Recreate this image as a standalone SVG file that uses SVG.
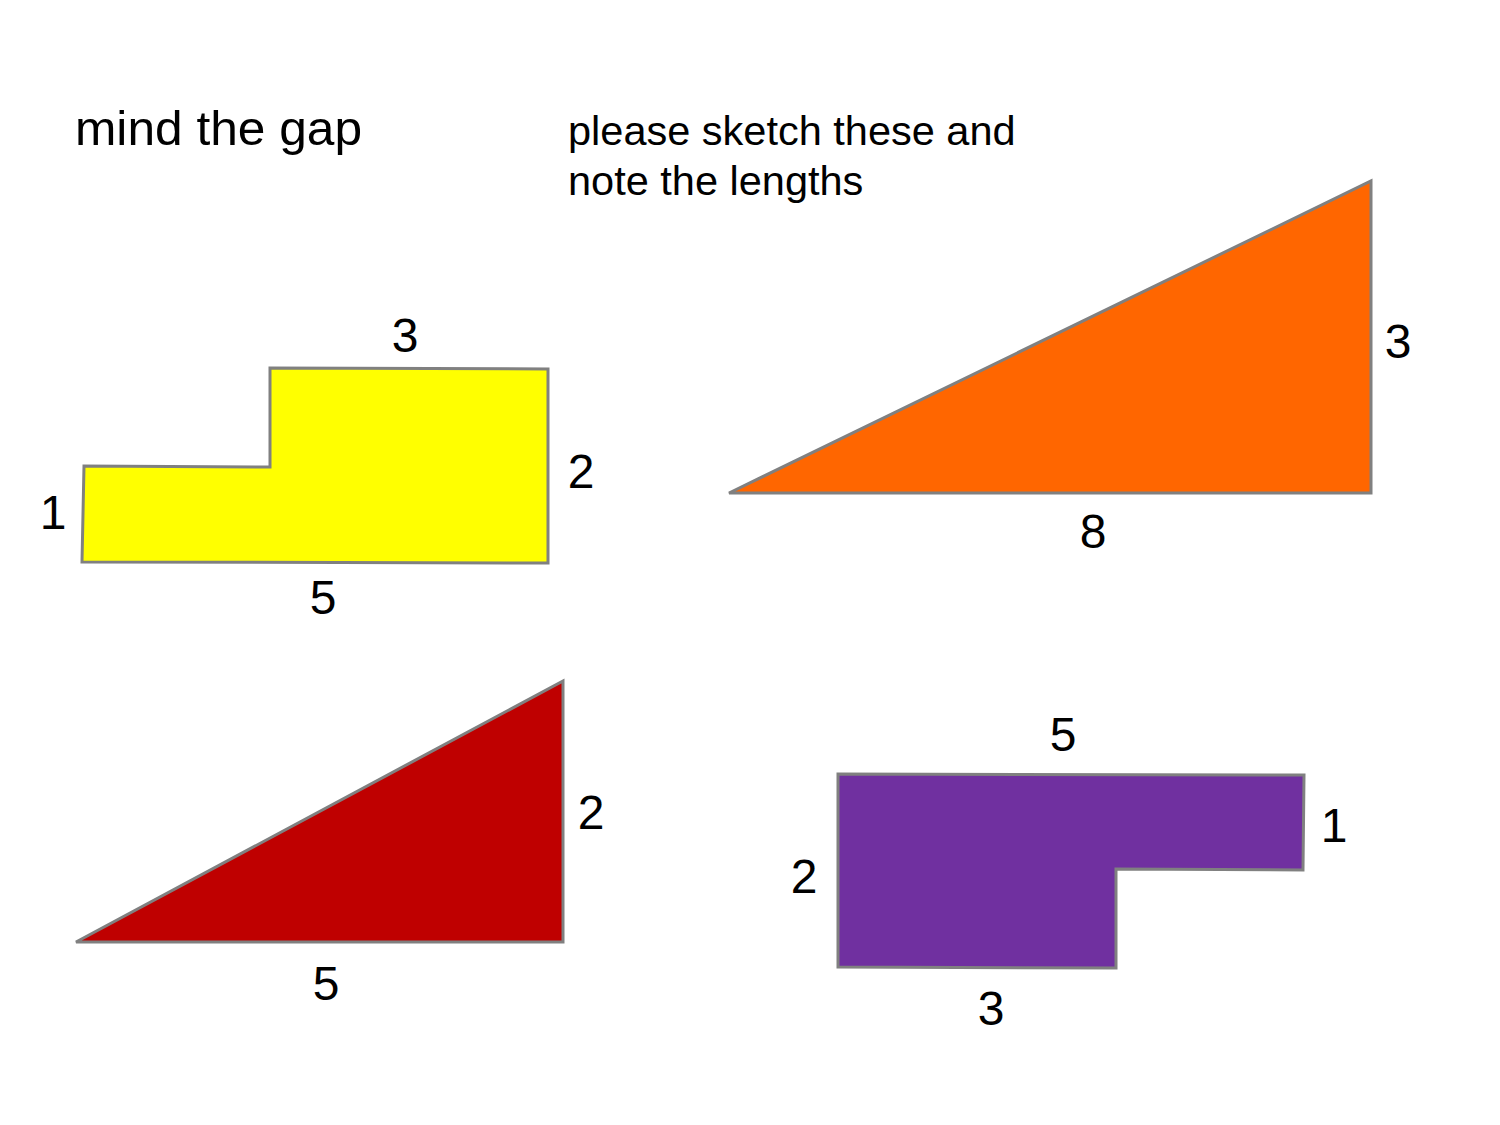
<svg xmlns="http://www.w3.org/2000/svg" width="1500" height="1125" viewBox="0 0 1500 1125">
<style>
.shape{stroke:#808080;stroke-width:3;stroke-linejoin:miter}
.t{font-family:"Liberation Sans",Arial,sans-serif;fill:#000}
.n{font-family:"Liberation Sans",Arial,sans-serif;font-size:48px;text-anchor:middle;fill:#000}
</style>
<rect width="1500" height="1125" fill="#fff"/>
<text class="t" x="75" y="145" font-size="48" textLength="287" lengthAdjust="spacingAndGlyphs">mind the gap</text>
<text class="t" x="568" y="145" font-size="41.5">please sketch these and</text>
<text class="t" x="568" y="195" font-size="41.5">note the lengths</text>
<g id="yellow">
<polygon class="shape" fill="#ffff00" points="270,368 548,369 548,563 82,562 84,466 270,467"/>
<text class="n" x="405" y="352">3</text>
<text class="n" x="581" y="488">2</text>
<text class="n" x="53" y="529">1</text>
<text class="n" x="323" y="614">5</text>
</g>
<g id="orange">
<polygon class="shape" fill="#ff6600" points="1371,181 1371,493 729,493"/>
<text class="n" x="1398" y="358">3</text>
<text class="n" x="1093" y="548">8</text>
</g>
<g id="red">
<polygon class="shape" fill="#bf0000" points="563,681 563,942 76,942"/>
<text class="n" x="591" y="829">2</text>
<text class="n" x="326" y="1000">5</text>
</g>
<g id="purple">
<polygon class="shape" fill="#7030a0" points="838,774 1304,775 1303,870 1116,869 1116,968 838,967"/>
<text class="n" x="1063" y="751">5</text>
<text class="n" x="1334" y="842">1</text>
<text class="n" x="804" y="893">2</text>
<text class="n" x="991" y="1025">3</text>
</g>
<g id="connectors"/>
</svg>
